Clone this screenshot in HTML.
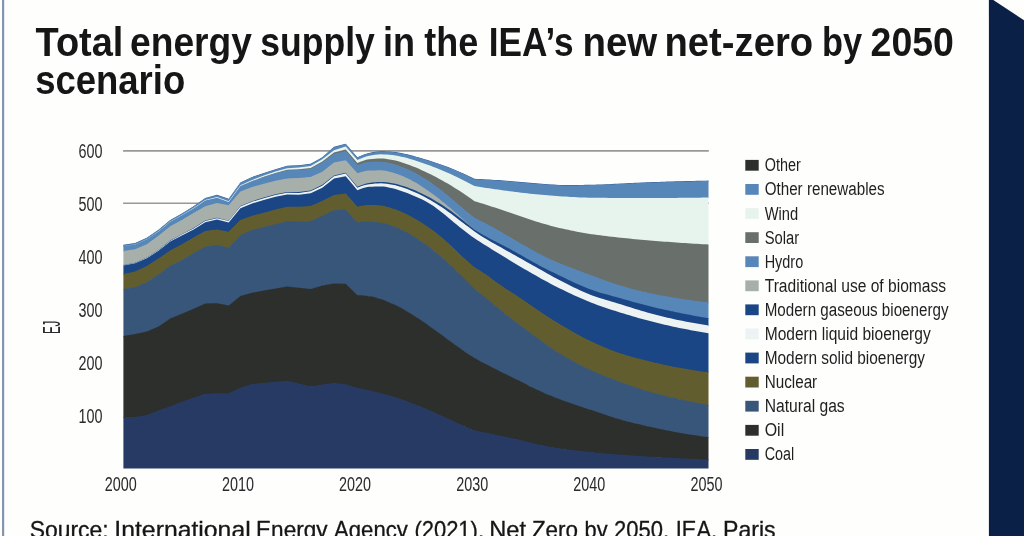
<!DOCTYPE html>
<html><head><meta charset="utf-8"><title>Total energy supply in the IEA's new net-zero by 2050 scenario</title>
<style>
html,body{margin:0;padding:0;background:#fff;}
body{width:1024px;height:536px;overflow:hidden;position:relative;font-family:"Liberation Sans",sans-serif;}
svg{position:absolute;left:0;top:0;}
.ax{font-family:"Liberation Sans",sans-serif;font-size:19.5px;fill:#2a2a2a;}
.lg{font-family:"Liberation Sans",sans-serif;font-size:18px;fill:#1f1f1f;}
.ttl{font-family:"Liberation Sans",sans-serif;font-weight:bold;font-size:40px;fill:#161616;}
.src{font-family:"Liberation Sans",sans-serif;font-size:23.2px;fill:#161616;stroke:#161616;stroke-width:0.3px;}
</style></head><body>
<svg width="1024" height="536" viewBox="0 0 1024 536">
<rect x="0" y="0" width="1024" height="536" fill="#fefefd"/>
<rect x="2" y="0" width="2.2" height="536" fill="#8394ae"/>
<path d="M988.9,0 L993.3,0 L1024,20.2 L1024,536 L988.9,536Z" fill="#0a2046"/>
<text y="55.7" class="ttl"><tspan x="35.5" textLength="87.9" lengthAdjust="spacingAndGlyphs">Total</tspan> <tspan x="130.1" textLength="121.8" lengthAdjust="spacingAndGlyphs">energy</tspan> <tspan x="260.3" textLength="114.5" lengthAdjust="spacingAndGlyphs">supply</tspan> <tspan x="383.1" textLength="32.0" lengthAdjust="spacingAndGlyphs">in</tspan> <tspan x="424.3" textLength="53.9" lengthAdjust="spacingAndGlyphs">the</tspan> <tspan x="488.8" textLength="84.8" lengthAdjust="spacingAndGlyphs">IEA’s</tspan> <tspan x="582.4" textLength="74.8" lengthAdjust="spacingAndGlyphs">new</tspan> <tspan x="664.5" textLength="148.6" lengthAdjust="spacingAndGlyphs">net-zero</tspan> <tspan x="821.9" textLength="40.1" lengthAdjust="spacingAndGlyphs">by</tspan> <tspan x="870.6" textLength="83.3" lengthAdjust="spacingAndGlyphs">2050</tspan></text>
<text y="93.8" class="ttl"><tspan x="35.2" textLength="150.0" lengthAdjust="spacingAndGlyphs">scenario</tspan></text>
<line x1="123.1" x2="708.8" y1="203.3" y2="203.3" stroke="#989898" stroke-width="1.6"/>
<line x1="123.1" x2="708.8" y1="150.9" y2="150.9" stroke="#989898" stroke-width="1.6"/>
<path d="M123.4,244.80 L135.1,243.00 L146.8,237.70 L158.5,229.70 L170.2,220.00 L181.9,213.40 L193.6,206.20 L205.3,197.90 L217.0,194.80 L228.7,198.80 L240.4,182.40 L252.1,176.90 L263.8,173.00 L275.5,169.20 L287.2,165.70 L298.9,165.20 L310.6,163.80 L322.3,157.20 L334.0,146.80 L345.7,143.70 L357.4,157.30 L360.4,155.93 L363.3,154.70 L366.2,153.69 L369.1,152.93 L372.1,152.33 L375.0,151.80 L377.9,151.42 L380.8,151.27 L383.8,151.31 L386.7,151.41 L389.6,151.55 L392.5,151.73 L395.5,152.03 L398.4,152.52 L401.3,153.11 L404.2,153.72 L407.2,154.36 L410.1,155.08 L413.0,155.86 L416.0,156.65 L418.9,157.45 L421.8,158.29 L424.7,159.16 L427.7,160.05 L430.6,160.97 L433.5,161.91 L436.4,162.89 L439.4,163.89 L442.3,164.93 L445.2,166.00 L448.1,167.10 L451.1,168.24 L454.0,169.42 L456.9,170.64 L459.8,171.89 L462.8,173.19 L465.7,174.52 L468.6,175.91 L471.5,177.33 L474.5,178.80 L477.4,178.93 L480.3,179.06 L483.2,179.21 L486.2,179.38 L489.1,179.55 L492.0,179.73 L494.9,179.92 L497.9,180.11 L500.8,180.31 L503.7,180.52 L506.6,180.75 L509.6,180.99 L512.5,181.26 L515.4,181.53 L518.3,181.80 L521.3,182.06 L524.2,182.33 L527.1,182.60 L530.0,182.86 L533.0,183.10 L535.9,183.31 L538.8,183.53 L541.7,183.76 L544.7,183.98 L547.6,184.20 L550.5,184.40 L553.4,184.59 L556.4,184.75 L559.3,184.89 L562.2,184.99 L565.2,185.06 L568.1,185.08 L571.0,185.07 L573.9,185.05 L576.9,185.01 L579.8,184.97 L582.7,184.92 L585.6,184.86 L588.6,184.80 L591.5,184.74 L594.4,184.67 L597.3,184.59 L600.3,184.49 L603.2,184.39 L606.1,184.27 L609.0,184.14 L612.0,184.00 L614.9,183.86 L617.8,183.71 L620.7,183.55 L623.7,183.40 L626.6,183.25 L629.5,183.09 L632.4,182.94 L635.4,182.80 L638.3,182.66 L641.2,182.52 L644.1,182.40 L647.1,182.28 L650.0,182.18 L652.9,182.08 L655.8,181.98 L658.8,181.89 L661.7,181.80 L664.6,181.71 L667.5,181.62 L670.5,181.53 L673.4,181.44 L676.3,181.36 L679.2,181.28 L682.2,181.20 L685.1,181.12 L688.0,181.05 L690.9,180.98 L693.9,180.91 L696.8,180.84 L699.7,180.78 L702.6,180.71 L705.6,180.66 L708.5,180.60 L708.5,181.70 L705.6,181.76 L702.6,181.81 L699.7,181.88 L696.8,181.94 L693.9,182.01 L690.9,182.08 L688.0,182.15 L685.1,182.22 L682.2,182.30 L679.2,182.38 L676.3,182.46 L673.4,182.54 L670.5,182.63 L667.5,182.72 L664.6,182.81 L661.7,182.90 L658.8,182.99 L655.8,183.08 L652.9,183.18 L650.0,183.28 L647.1,183.38 L644.1,183.50 L641.2,183.62 L638.3,183.76 L635.4,183.90 L632.4,184.04 L629.5,184.19 L626.6,184.35 L623.7,184.50 L620.7,184.65 L617.8,184.81 L614.9,184.96 L612.0,185.10 L609.0,185.24 L606.1,185.37 L603.2,185.49 L600.3,185.59 L597.3,185.69 L594.4,185.77 L591.5,185.84 L588.6,185.90 L585.6,185.96 L582.7,186.02 L579.8,186.07 L576.9,186.11 L573.9,186.15 L571.0,186.17 L568.1,186.18 L565.2,186.16 L562.2,186.09 L559.3,185.99 L556.4,185.85 L553.4,185.69 L550.5,185.50 L547.6,185.30 L544.7,185.08 L541.7,184.86 L538.8,184.63 L535.9,184.41 L533.0,184.20 L530.0,183.96 L527.1,183.70 L524.2,183.43 L521.3,183.16 L518.3,182.90 L515.4,182.63 L512.5,182.36 L509.6,182.09 L506.6,181.85 L503.7,181.62 L500.8,181.41 L497.9,181.21 L494.9,181.02 L492.0,180.83 L489.1,180.65 L486.2,180.48 L483.2,180.31 L480.3,180.16 L477.4,180.03 L474.5,179.90 L471.5,178.43 L468.6,177.01 L465.7,175.62 L462.8,174.29 L459.8,172.99 L456.9,171.74 L454.0,170.52 L451.1,169.34 L448.1,168.20 L445.2,167.10 L442.3,166.03 L439.4,164.99 L436.4,163.99 L433.5,163.01 L430.6,162.07 L427.7,161.15 L424.7,160.26 L421.8,159.39 L418.9,158.55 L416.0,157.75 L413.0,156.96 L410.1,156.18 L407.2,155.46 L404.2,154.82 L401.3,154.21 L398.4,153.62 L395.5,153.13 L392.5,152.83 L389.6,152.65 L386.7,152.51 L383.8,152.41 L380.8,152.37 L377.9,152.52 L375.0,152.90 L372.1,153.43 L369.1,154.03 L366.2,154.79 L363.3,155.80 L360.4,157.03 L357.4,158.40 L345.7,144.80 L334.0,147.90 L322.3,158.30 L310.6,164.90 L298.9,166.30 L287.2,166.80 L275.5,170.30 L263.8,174.10 L252.1,178.00 L240.4,183.50 L228.7,199.90 L217.0,195.90 L205.3,199.00 L193.6,207.30 L181.9,214.50 L170.2,221.10 L158.5,230.80 L146.8,238.80 L135.1,244.10 L123.4,245.90Z" fill="#2f5c99"/>
<path d="M123.4,245.20 L135.1,243.40 L146.8,238.10 L158.5,230.10 L170.2,220.40 L181.9,213.80 L193.6,206.60 L205.3,198.30 L217.0,195.20 L228.7,199.20 L240.4,182.80 L252.1,177.30 L263.8,173.40 L275.5,169.60 L287.2,166.10 L298.9,165.60 L310.6,164.20 L322.3,157.60 L334.0,147.20 L345.7,144.10 L357.4,157.70 L360.4,156.33 L363.3,155.10 L366.2,154.09 L369.1,153.33 L372.1,152.73 L375.0,152.20 L377.9,151.82 L380.8,151.67 L383.8,151.71 L386.7,151.81 L389.6,151.95 L392.5,152.13 L395.5,152.43 L398.4,152.92 L401.3,153.51 L404.2,154.12 L407.2,154.76 L410.1,155.48 L413.0,156.26 L416.0,157.05 L418.9,157.85 L421.8,158.69 L424.7,159.56 L427.7,160.45 L430.6,161.37 L433.5,162.31 L436.4,163.29 L439.4,164.29 L442.3,165.33 L445.2,166.40 L448.1,167.50 L451.1,168.64 L454.0,169.82 L456.9,171.04 L459.8,172.29 L462.8,173.59 L465.7,174.92 L468.6,176.31 L471.5,177.73 L474.5,179.20 L477.4,179.33 L480.3,179.46 L483.2,179.61 L486.2,179.78 L489.1,179.95 L492.0,180.13 L494.9,180.32 L497.9,180.51 L500.8,180.71 L503.7,180.92 L506.6,181.15 L509.6,181.39 L512.5,181.66 L515.4,181.93 L518.3,182.20 L521.3,182.46 L524.2,182.73 L527.1,183.00 L530.0,183.26 L533.0,183.50 L535.9,183.71 L538.8,183.93 L541.7,184.16 L544.7,184.38 L547.6,184.60 L550.5,184.80 L553.4,184.99 L556.4,185.15 L559.3,185.29 L562.2,185.39 L565.2,185.46 L568.1,185.48 L571.0,185.47 L573.9,185.45 L576.9,185.41 L579.8,185.37 L582.7,185.32 L585.6,185.26 L588.6,185.20 L591.5,185.14 L594.4,185.07 L597.3,184.99 L600.3,184.89 L603.2,184.79 L606.1,184.67 L609.0,184.54 L612.0,184.40 L614.9,184.26 L617.8,184.11 L620.7,183.95 L623.7,183.80 L626.6,183.65 L629.5,183.49 L632.4,183.34 L635.4,183.20 L638.3,183.06 L641.2,182.92 L644.1,182.80 L647.1,182.68 L650.0,182.58 L652.9,182.48 L655.8,182.38 L658.8,182.29 L661.7,182.20 L664.6,182.11 L667.5,182.02 L670.5,181.93 L673.4,181.84 L676.3,181.76 L679.2,181.68 L682.2,181.60 L685.1,181.52 L688.0,181.45 L690.9,181.38 L693.9,181.31 L696.8,181.24 L699.7,181.18 L702.6,181.11 L705.6,181.06 L708.5,181.00 L708.5,198.20 L705.6,198.24 L702.6,198.29 L699.7,198.33 L696.8,198.37 L693.9,198.41 L690.9,198.44 L688.0,198.48 L685.1,198.51 L682.2,198.54 L679.2,198.57 L676.3,198.60 L673.4,198.62 L670.5,198.64 L667.5,198.66 L664.6,198.68 L661.7,198.69 L658.8,198.70 L655.8,198.71 L652.9,198.71 L650.0,198.71 L647.1,198.71 L644.1,198.71 L641.2,198.71 L638.3,198.70 L635.4,198.70 L632.4,198.69 L629.5,198.68 L626.6,198.67 L623.7,198.66 L620.7,198.65 L617.8,198.63 L614.9,198.62 L612.0,198.60 L609.0,198.58 L606.1,198.56 L603.2,198.54 L600.3,198.52 L597.3,198.49 L594.4,198.47 L591.5,198.44 L588.6,198.39 L585.6,198.31 L582.7,198.21 L579.8,198.08 L576.9,197.94 L573.9,197.78 L571.0,197.62 L568.1,197.46 L565.2,197.30 L562.2,197.11 L559.3,196.91 L556.4,196.70 L553.4,196.47 L550.5,196.23 L547.6,195.98 L544.7,195.72 L541.7,195.46 L538.8,195.19 L535.9,194.91 L533.0,194.63 L530.0,194.34 L527.1,194.03 L524.2,193.69 L521.3,193.35 L518.3,192.99 L515.4,192.63 L512.5,192.26 L509.6,191.88 L506.6,191.49 L503.7,191.10 L500.8,190.70 L497.9,190.30 L494.9,189.88 L492.0,189.45 L489.1,189.02 L486.2,188.58 L483.2,188.12 L480.3,187.66 L477.4,187.18 L474.5,186.70 L471.5,185.13 L468.6,183.60 L465.7,182.10 L462.8,180.63 L459.8,179.19 L456.9,177.78 L454.0,176.41 L451.1,175.06 L448.1,173.75 L445.2,172.47 L442.3,171.22 L439.4,170.01 L436.4,168.82 L433.5,167.67 L430.6,166.55 L427.7,165.47 L424.7,164.41 L421.8,163.39 L418.9,162.39 L416.0,161.45 L413.0,160.53 L410.1,159.63 L407.2,158.79 L404.2,158.05 L401.3,157.35 L398.4,156.68 L395.5,156.11 L392.5,155.73 L389.6,155.48 L386.7,155.26 L383.8,155.10 L380.8,155.05 L377.9,155.18 L375.0,155.52 L372.1,156.00 L369.1,156.55 L366.2,157.27 L363.3,158.25 L360.4,159.45 L357.4,160.80 L345.7,147.10 L334.0,151.00 L322.3,160.03 L310.6,166.67 L298.9,168.25 L287.2,168.90 L275.5,172.25 L263.8,176.20 L252.1,180.80 L240.4,185.90 L228.7,202.06 L217.0,197.82 L205.3,200.68 L193.6,208.74 L181.9,215.70 L170.2,222.30 L158.5,231.95 L146.8,239.90 L135.1,245.15 L123.4,246.90Z" fill="#5786b8"/>
<path d="M123.4,246.20 L135.1,244.45 L146.8,239.20 L158.5,231.25 L170.2,221.60 L181.9,215.00 L193.6,208.04 L205.3,199.98 L217.0,197.12 L228.7,201.36 L240.4,185.20 L252.1,180.10 L263.8,175.50 L275.5,171.55 L287.2,168.20 L298.9,167.55 L310.6,165.97 L322.3,159.33 L334.0,150.30 L345.7,146.40 L357.4,160.10 L360.4,158.75 L363.3,157.55 L366.2,156.57 L369.1,155.85 L372.1,155.30 L375.0,154.82 L377.9,154.48 L380.8,154.35 L383.8,154.40 L386.7,154.56 L389.6,154.78 L392.5,155.03 L395.5,155.41 L398.4,155.98 L401.3,156.65 L404.2,157.35 L407.2,158.09 L410.1,158.93 L413.0,159.83 L416.0,160.75 L418.9,161.69 L421.8,162.69 L424.7,163.71 L427.7,164.77 L430.6,165.85 L433.5,166.97 L436.4,168.12 L439.4,169.31 L442.3,170.52 L445.2,171.77 L448.1,173.05 L451.1,174.36 L454.0,175.71 L456.9,177.08 L459.8,178.49 L462.8,179.93 L465.7,181.40 L468.6,182.90 L471.5,184.43 L474.5,186.00 L477.4,186.48 L480.3,186.96 L483.2,187.42 L486.2,187.88 L489.1,188.32 L492.0,188.75 L494.9,189.18 L497.9,189.60 L500.8,190.00 L503.7,190.40 L506.6,190.79 L509.6,191.18 L512.5,191.56 L515.4,191.93 L518.3,192.29 L521.3,192.65 L524.2,192.99 L527.1,193.33 L530.0,193.64 L533.0,193.93 L535.9,194.21 L538.8,194.49 L541.7,194.76 L544.7,195.02 L547.6,195.28 L550.5,195.53 L553.4,195.77 L556.4,196.00 L559.3,196.21 L562.2,196.41 L565.2,196.60 L568.1,196.76 L571.0,196.92 L573.9,197.08 L576.9,197.24 L579.8,197.38 L582.7,197.51 L585.6,197.61 L588.6,197.69 L591.5,197.74 L594.4,197.77 L597.3,197.79 L600.3,197.82 L603.2,197.84 L606.1,197.86 L609.0,197.88 L612.0,197.90 L614.9,197.92 L617.8,197.93 L620.7,197.95 L623.7,197.96 L626.6,197.97 L629.5,197.98 L632.4,197.99 L635.4,198.00 L638.3,198.00 L641.2,198.01 L644.1,198.01 L647.1,198.01 L650.0,198.01 L652.9,198.01 L655.8,198.01 L658.8,198.00 L661.7,197.99 L664.6,197.98 L667.5,197.96 L670.5,197.94 L673.4,197.92 L676.3,197.90 L679.2,197.87 L682.2,197.84 L685.1,197.81 L688.0,197.78 L690.9,197.74 L693.9,197.71 L696.8,197.67 L699.7,197.63 L702.6,197.59 L705.6,197.54 L708.5,197.50 L708.5,245.20 L705.6,245.05 L702.6,244.89 L699.7,244.73 L696.8,244.56 L693.9,244.39 L690.9,244.20 L688.0,244.02 L685.1,243.82 L682.2,243.63 L679.2,243.42 L676.3,243.22 L673.4,243.00 L670.5,242.79 L667.5,242.56 L664.6,242.34 L661.7,242.11 L658.8,241.87 L655.8,241.64 L652.9,241.39 L650.0,241.15 L647.1,240.90 L644.1,240.65 L641.2,240.39 L638.3,240.13 L635.4,239.86 L632.4,239.58 L629.5,239.30 L626.6,239.01 L623.7,238.71 L620.7,238.41 L617.8,238.10 L614.9,237.78 L612.0,237.45 L609.0,237.11 L606.1,236.76 L603.2,236.40 L600.3,236.04 L597.3,235.66 L594.4,235.27 L591.5,234.87 L588.6,234.44 L585.6,233.95 L582.7,233.43 L579.8,232.89 L576.9,232.35 L573.9,231.78 L571.0,231.18 L568.1,230.57 L565.2,229.93 L562.2,229.27 L559.3,228.58 L556.4,227.87 L553.4,227.13 L550.5,226.36 L547.6,225.56 L544.7,224.74 L541.7,223.89 L538.8,223.01 L535.9,222.11 L533.0,221.18 L530.0,220.24 L527.1,219.28 L524.2,218.30 L521.3,217.32 L518.3,216.32 L515.4,215.32 L512.5,214.31 L509.6,213.30 L506.6,212.29 L503.7,211.28 L500.8,210.28 L497.9,209.29 L494.9,208.30 L492.0,207.33 L489.1,206.37 L486.2,205.43 L483.2,204.52 L480.3,203.63 L477.4,202.75 L474.5,201.90 L471.5,199.79 L468.6,197.72 L465.7,195.71 L462.8,193.74 L459.8,191.81 L456.9,189.92 L454.0,188.09 L451.1,186.29 L448.1,184.55 L445.2,182.84 L442.3,181.19 L439.4,179.58 L436.4,178.01 L433.5,176.49 L430.6,175.01 L427.7,173.58 L424.7,172.19 L421.8,170.84 L418.9,169.55 L416.0,168.30 L413.0,167.10 L410.1,165.93 L407.2,164.83 L404.2,163.84 L401.3,162.90 L398.4,162.01 L395.5,161.22 L392.5,160.62 L389.6,160.11 L386.7,159.64 L383.8,159.30 L380.8,159.17 L377.9,159.24 L375.0,159.42 L372.1,159.69 L369.1,160.02 L366.2,160.55 L363.3,161.40 L360.4,162.47 L357.4,163.70 L345.7,150.10 L334.0,153.20 L322.3,162.10 L310.6,168.60 L298.9,170.05 L287.2,170.50 L275.5,173.65 L263.8,177.40 L252.1,181.80 L240.4,186.70 L228.7,202.76 L217.0,198.42 L205.3,201.18 L193.6,209.14 L181.9,216.00 L170.2,222.50 L158.5,232.10 L146.8,240.00 L135.1,245.20 L123.4,246.20Z" fill="#e7f4ee"/>
<path d="M123.4,246.20 L135.1,244.50 L146.8,239.30 L158.5,231.40 L170.2,221.80 L181.9,215.30 L193.6,208.44 L205.3,200.48 L217.0,197.72 L228.7,202.06 L240.4,186.00 L252.1,181.10 L263.8,176.70 L275.5,172.95 L287.2,169.80 L298.9,169.35 L310.6,167.90 L322.3,161.40 L334.0,152.50 L345.7,149.40 L357.4,163.00 L360.4,161.77 L363.3,160.70 L366.2,159.85 L369.1,159.32 L372.1,158.99 L375.0,158.72 L377.9,158.54 L380.8,158.47 L383.8,158.60 L386.7,158.94 L389.6,159.41 L392.5,159.92 L395.5,160.52 L398.4,161.31 L401.3,162.20 L404.2,163.14 L407.2,164.13 L410.1,165.23 L413.0,166.40 L416.0,167.60 L418.9,168.85 L421.8,170.14 L424.7,171.49 L427.7,172.88 L430.6,174.31 L433.5,175.79 L436.4,177.31 L439.4,178.88 L442.3,180.49 L445.2,182.14 L448.1,183.85 L451.1,185.59 L454.0,187.39 L456.9,189.22 L459.8,191.11 L462.8,193.04 L465.7,195.01 L468.6,197.02 L471.5,199.09 L474.5,201.20 L477.4,202.05 L480.3,202.93 L483.2,203.82 L486.2,204.73 L489.1,205.67 L492.0,206.63 L494.9,207.60 L497.9,208.59 L500.8,209.58 L503.7,210.58 L506.6,211.59 L509.6,212.60 L512.5,213.61 L515.4,214.62 L518.3,215.62 L521.3,216.62 L524.2,217.60 L527.1,218.58 L530.0,219.54 L533.0,220.48 L535.9,221.41 L538.8,222.31 L541.7,223.19 L544.7,224.04 L547.6,224.86 L550.5,225.66 L553.4,226.43 L556.4,227.17 L559.3,227.88 L562.2,228.57 L565.2,229.23 L568.1,229.87 L571.0,230.48 L573.9,231.08 L576.9,231.65 L579.8,232.19 L582.7,232.73 L585.6,233.25 L588.6,233.74 L591.5,234.17 L594.4,234.57 L597.3,234.96 L600.3,235.34 L603.2,235.70 L606.1,236.06 L609.0,236.41 L612.0,236.75 L614.9,237.08 L617.8,237.40 L620.7,237.71 L623.7,238.01 L626.6,238.31 L629.5,238.60 L632.4,238.88 L635.4,239.16 L638.3,239.43 L641.2,239.69 L644.1,239.95 L647.1,240.20 L650.0,240.45 L652.9,240.69 L655.8,240.94 L658.8,241.17 L661.7,241.41 L664.6,241.64 L667.5,241.86 L670.5,242.09 L673.4,242.30 L676.3,242.52 L679.2,242.72 L682.2,242.93 L685.1,243.12 L688.0,243.32 L690.9,243.50 L693.9,243.69 L696.8,243.86 L699.7,244.03 L702.6,244.19 L705.6,244.35 L708.5,244.50 L708.5,303.20 L705.6,302.86 L702.6,302.51 L699.7,302.14 L696.8,301.75 L693.9,301.36 L690.9,300.95 L688.0,300.53 L685.1,300.10 L682.2,299.66 L679.2,299.21 L676.3,298.75 L673.4,298.28 L670.5,297.80 L667.5,297.30 L664.6,296.79 L661.7,296.26 L658.8,295.71 L655.8,295.14 L652.9,294.55 L650.0,293.93 L647.1,293.29 L644.1,292.62 L641.2,291.93 L638.3,291.20 L635.4,290.45 L632.4,289.68 L629.5,288.88 L626.6,288.06 L623.7,287.22 L620.7,286.36 L617.8,285.48 L614.9,284.56 L612.0,283.59 L609.0,282.58 L606.1,281.54 L603.2,280.47 L600.3,279.39 L597.3,278.30 L594.4,277.22 L591.5,276.14 L588.6,275.05 L585.6,273.95 L582.7,272.84 L579.8,271.74 L576.9,270.65 L573.9,269.56 L571.0,268.47 L568.1,267.35 L565.2,266.21 L562.2,265.05 L559.3,263.86 L556.4,262.62 L553.4,261.33 L550.5,259.98 L547.6,258.59 L544.7,257.17 L541.7,255.70 L538.8,254.19 L535.9,252.64 L533.0,251.06 L530.0,249.46 L527.1,247.82 L524.2,246.16 L521.3,244.48 L518.3,242.78 L515.4,241.06 L512.5,239.33 L509.6,237.62 L506.6,235.90 L503.7,234.19 L500.8,232.49 L497.9,230.81 L494.9,229.17 L492.0,227.55 L489.1,225.95 L486.2,224.39 L483.2,222.87 L480.3,221.38 L477.4,219.92 L474.5,218.50 L471.5,216.18 L468.6,213.83 L465.7,211.44 L462.8,209.01 L459.8,206.52 L456.9,203.97 L454.0,201.42 L451.1,198.93 L448.1,196.50 L445.2,194.10 L442.3,191.75 L439.4,189.48 L436.4,187.28 L433.5,185.14 L430.6,183.08 L427.7,181.11 L424.7,179.22 L421.8,177.39 L418.9,175.66 L416.0,174.04 L413.0,172.51 L410.1,171.06 L407.2,169.70 L404.2,168.48 L401.3,167.34 L398.4,166.28 L395.5,165.33 L392.5,164.54 L389.6,163.81 L386.7,163.11 L383.8,162.59 L380.8,162.39 L377.9,162.40 L375.0,162.45 L372.1,162.53 L369.1,162.64 L366.2,163.00 L363.3,163.76 L360.4,164.81 L357.4,166.00 L345.7,151.80 L334.0,154.60 L322.3,163.20 L310.6,169.40 L298.9,170.70 L287.2,171.00 L275.5,174.00 L263.8,177.60 L252.1,181.10 L240.4,186.00 L228.7,202.06 L217.0,197.72 L205.3,200.48 L193.6,208.44 L181.9,215.30 L170.2,221.80 L158.5,231.40 L146.8,239.30 L135.1,244.50 L123.4,246.20Z" fill="#69706c"/>
<path d="M123.4,246.20 L135.1,244.50 L146.8,239.30 L158.5,231.40 L170.2,221.80 L181.9,215.30 L193.6,208.44 L205.3,200.48 L217.0,197.72 L228.7,202.06 L240.4,186.00 L252.1,181.10 L263.8,176.90 L275.5,173.30 L287.2,170.30 L298.9,170.00 L310.6,168.70 L322.3,162.50 L334.0,153.90 L345.7,151.10 L357.4,165.30 L360.4,164.11 L363.3,163.06 L366.2,162.30 L369.1,161.94 L372.1,161.83 L375.0,161.75 L377.9,161.70 L380.8,161.69 L383.8,161.89 L386.7,162.41 L389.6,163.11 L392.5,163.84 L395.5,164.63 L398.4,165.58 L401.3,166.64 L404.2,167.78 L407.2,169.00 L410.1,170.36 L413.0,171.81 L416.0,173.34 L418.9,174.96 L421.8,176.69 L424.7,178.52 L427.7,180.41 L430.6,182.38 L433.5,184.44 L436.4,186.58 L439.4,188.78 L442.3,191.05 L445.2,193.40 L448.1,195.80 L451.1,198.23 L454.0,200.72 L456.9,203.27 L459.8,205.82 L462.8,208.31 L465.7,210.74 L468.6,213.13 L471.5,215.48 L474.5,217.80 L477.4,219.22 L480.3,220.68 L483.2,222.17 L486.2,223.69 L489.1,225.25 L492.0,226.85 L494.9,228.47 L497.9,230.11 L500.8,231.79 L503.7,233.49 L506.6,235.20 L509.6,236.92 L512.5,238.63 L515.4,240.36 L518.3,242.08 L521.3,243.78 L524.2,245.46 L527.1,247.12 L530.0,248.76 L533.0,250.36 L535.9,251.94 L538.8,253.49 L541.7,255.00 L544.7,256.47 L547.6,257.89 L550.5,259.28 L553.4,260.63 L556.4,261.92 L559.3,263.16 L562.2,264.35 L565.2,265.51 L568.1,266.65 L571.0,267.77 L573.9,268.86 L576.9,269.95 L579.8,271.04 L582.7,272.14 L585.6,273.25 L588.6,274.35 L591.5,275.44 L594.4,276.52 L597.3,277.60 L600.3,278.69 L603.2,279.77 L606.1,280.84 L609.0,281.88 L612.0,282.89 L614.9,283.86 L617.8,284.78 L620.7,285.66 L623.7,286.52 L626.6,287.36 L629.5,288.18 L632.4,288.98 L635.4,289.75 L638.3,290.50 L641.2,291.23 L644.1,291.92 L647.1,292.59 L650.0,293.23 L652.9,293.85 L655.8,294.44 L658.8,295.01 L661.7,295.56 L664.6,296.09 L667.5,296.60 L670.5,297.10 L673.4,297.58 L676.3,298.05 L679.2,298.51 L682.2,298.96 L685.1,299.40 L688.0,299.83 L690.9,300.25 L693.9,300.66 L696.8,301.05 L699.7,301.44 L702.6,301.81 L705.6,302.16 L708.5,302.50 L708.5,319.00 L705.6,318.50 L702.6,317.98 L699.7,317.46 L696.8,316.92 L693.9,316.38 L690.9,315.82 L688.0,315.26 L685.1,314.68 L682.2,314.10 L679.2,313.51 L676.3,312.92 L673.4,312.31 L670.5,311.69 L667.5,311.07 L664.6,310.43 L661.7,309.78 L658.8,309.11 L655.8,308.43 L652.9,307.74 L650.0,307.03 L647.1,306.30 L644.1,305.55 L641.2,304.78 L638.3,303.99 L635.4,303.18 L632.4,302.37 L629.5,301.55 L626.6,300.72 L623.7,299.88 L620.7,299.05 L617.8,298.22 L614.9,297.41 L612.0,296.61 L609.0,295.81 L606.1,295.00 L603.2,294.18 L600.3,293.33 L597.3,292.44 L594.4,291.50 L591.5,290.50 L588.6,289.43 L585.6,288.29 L582.7,287.07 L579.8,285.80 L576.9,284.48 L573.9,283.13 L571.0,281.74 L568.1,280.33 L565.2,278.91 L562.2,277.50 L559.3,276.08 L556.4,274.69 L553.4,273.30 L550.5,271.89 L547.6,270.44 L544.7,268.97 L541.7,267.44 L538.8,265.88 L535.9,264.28 L533.0,262.67 L530.0,261.03 L527.1,259.37 L524.2,257.69 L521.3,256.03 L518.3,254.39 L515.4,252.74 L512.5,251.12 L509.6,249.52 L506.6,247.97 L503.7,246.45 L500.8,244.94 L497.9,243.43 L494.9,241.91 L492.0,240.39 L489.1,238.86 L486.2,237.27 L483.2,235.62 L480.3,233.93 L477.4,232.19 L474.5,230.40 L471.5,227.72 L468.6,225.06 L465.7,222.40 L462.8,219.77 L459.8,217.16 L456.9,214.56 L454.0,212.00 L451.1,209.48 L448.1,207.00 L445.2,204.55 L442.3,202.16 L439.4,199.82 L436.4,197.55 L433.5,195.32 L430.6,193.16 L427.7,191.09 L424.7,189.09 L421.8,187.15 L418.9,185.29 L416.0,183.55 L413.0,181.90 L410.1,180.32 L407.2,178.85 L404.2,177.51 L401.3,176.28 L398.4,175.12 L395.5,174.09 L392.5,173.25 L389.6,172.50 L386.7,171.79 L383.8,171.26 L380.8,171.05 L377.9,171.06 L375.0,171.09 L372.1,171.14 L369.1,171.21 L366.2,171.49 L363.3,172.13 L360.4,173.00 L357.4,174.00 L345.7,161.00 L334.0,163.20 L322.3,172.50 L310.6,177.60 L298.9,178.80 L287.2,179.10 L275.5,181.40 L263.8,184.40 L252.1,187.80 L240.4,192.30 L228.7,205.90 L217.0,203.80 L205.3,207.00 L193.6,213.60 L181.9,220.60 L170.2,227.00 L158.5,236.40 L146.8,245.00 L135.1,249.90 L123.4,251.80Z" fill="#5786b8"/>
<path d="M123.4,251.10 L135.1,249.20 L146.8,244.30 L158.5,235.70 L170.2,226.30 L181.9,219.90 L193.6,212.90 L205.3,206.30 L217.0,203.10 L228.7,205.20 L240.4,191.60 L252.1,187.10 L263.8,183.70 L275.5,180.70 L287.2,178.40 L298.9,178.10 L310.6,176.90 L322.3,171.80 L334.0,162.50 L345.7,160.30 L357.4,173.30 L360.4,172.30 L363.3,171.43 L366.2,170.79 L369.1,170.51 L372.1,170.44 L375.0,170.39 L377.9,170.36 L380.8,170.35 L383.8,170.56 L386.7,171.09 L389.6,171.80 L392.5,172.55 L395.5,173.39 L398.4,174.42 L401.3,175.58 L404.2,176.81 L407.2,178.15 L410.1,179.62 L413.0,181.20 L416.0,182.85 L418.9,184.59 L421.8,186.45 L424.7,188.39 L427.7,190.39 L430.6,192.46 L433.5,194.62 L436.4,196.85 L439.4,199.12 L442.3,201.46 L445.2,203.85 L448.1,206.30 L451.1,208.78 L454.0,211.30 L456.9,213.86 L459.8,216.46 L462.8,219.07 L465.7,221.70 L468.6,224.36 L471.5,227.02 L474.5,229.70 L477.4,231.49 L480.3,233.23 L483.2,234.92 L486.2,236.57 L489.1,238.16 L492.0,239.69 L494.9,241.21 L497.9,242.73 L500.8,244.24 L503.7,245.75 L506.6,247.27 L509.6,248.82 L512.5,250.42 L515.4,252.04 L518.3,253.69 L521.3,255.33 L524.2,256.99 L527.1,258.67 L530.0,260.33 L533.0,261.97 L535.9,263.58 L538.8,265.18 L541.7,266.74 L544.7,268.27 L547.6,269.74 L550.5,271.19 L553.4,272.60 L556.4,273.99 L559.3,275.38 L562.2,276.80 L565.2,278.21 L568.1,279.63 L571.0,281.04 L573.9,282.43 L576.9,283.78 L579.8,285.10 L582.7,286.37 L585.6,287.59 L588.6,288.73 L591.5,289.80 L594.4,290.80 L597.3,291.74 L600.3,292.63 L603.2,293.48 L606.1,294.30 L609.0,295.11 L612.0,295.91 L614.9,296.71 L617.8,297.52 L620.7,298.35 L623.7,299.18 L626.6,300.02 L629.5,300.85 L632.4,301.67 L635.4,302.48 L638.3,303.29 L641.2,304.08 L644.1,304.85 L647.1,305.60 L650.0,306.33 L652.9,307.04 L655.8,307.73 L658.8,308.41 L661.7,309.08 L664.6,309.73 L667.5,310.37 L670.5,310.99 L673.4,311.61 L676.3,312.22 L679.2,312.81 L682.2,313.40 L685.1,313.98 L688.0,314.56 L690.9,315.12 L693.9,315.68 L696.8,316.22 L699.7,316.76 L702.6,317.28 L705.6,317.80 L708.5,318.30 L708.5,318.30 L705.6,317.80 L702.6,317.28 L699.7,316.76 L696.8,316.22 L693.9,315.68 L690.9,315.12 L688.0,314.56 L685.1,313.98 L682.2,313.40 L679.2,312.81 L676.3,312.22 L673.4,311.61 L670.5,310.99 L667.5,310.37 L664.6,309.73 L661.7,309.08 L658.8,308.41 L655.8,307.73 L652.9,307.04 L650.0,306.33 L647.1,305.60 L644.1,304.85 L641.2,304.08 L638.3,303.29 L635.4,302.48 L632.4,301.67 L629.5,300.85 L626.6,300.02 L623.7,299.18 L620.7,298.35 L617.8,297.52 L614.9,296.71 L612.0,295.91 L609.0,295.11 L606.1,294.30 L603.2,293.48 L600.3,292.63 L597.3,291.74 L594.4,290.80 L591.5,289.80 L588.6,288.73 L585.6,287.59 L582.7,286.37 L579.8,285.10 L576.9,283.78 L573.9,282.43 L571.0,281.04 L568.1,279.63 L565.2,278.21 L562.2,276.80 L559.3,275.38 L556.4,273.99 L553.4,272.60 L550.5,271.19 L547.6,269.74 L544.7,268.27 L541.7,266.74 L538.8,265.18 L535.9,263.58 L533.0,261.97 L530.0,260.33 L527.1,258.67 L524.2,256.99 L521.3,255.33 L518.3,253.69 L515.4,252.04 L512.5,250.42 L509.6,248.82 L506.6,247.27 L503.7,245.75 L500.8,244.24 L497.9,242.73 L494.9,241.21 L492.0,239.69 L489.1,238.16 L486.2,236.57 L483.2,234.92 L480.3,233.23 L477.4,231.49 L474.5,229.70 L471.5,227.95 L468.6,225.53 L465.7,223.15 L462.8,220.81 L459.8,218.49 L456.9,216.19 L454.0,213.95 L451.1,211.79 L448.1,209.71 L445.2,207.70 L442.3,205.75 L439.4,203.90 L436.4,202.11 L433.5,200.39 L430.6,198.75 L427.7,197.18 L424.7,195.67 L421.8,194.22 L418.9,192.85 L416.0,191.55 L413.0,190.31 L410.1,189.11 L407.2,188.00 L404.2,187.01 L401.3,186.09 L398.4,185.22 L395.5,184.47 L392.5,183.91 L389.6,183.46 L386.7,183.06 L383.8,182.77 L380.8,182.66 L377.9,182.74 L375.0,182.97 L372.1,183.29 L369.1,183.68 L366.2,184.25 L363.3,185.11 L360.4,186.18 L357.4,187.40 L345.7,173.34 L334.0,176.08 L322.3,185.45 L310.6,191.13 L298.9,192.80 L287.2,192.60 L275.5,195.00 L263.8,198.30 L252.1,201.90 L240.4,206.70 L228.7,221.33 L217.0,218.56 L205.3,221.32 L193.6,228.79 L181.9,234.95 L170.2,241.28 L158.5,250.69 L146.8,258.19 L135.1,263.39 L123.4,265.70Z" fill="#a7afaa"/>
<path d="M123.4,265.00 L135.1,262.69 L146.8,257.49 L158.5,249.99 L170.2,240.58 L181.9,234.25 L193.6,228.09 L205.3,220.62 L217.0,217.86 L228.7,220.63 L240.4,206.00 L252.1,201.20 L263.8,197.60 L275.5,194.30 L287.2,191.90 L298.9,192.10 L310.6,190.43 L322.3,184.75 L334.0,175.38 L345.7,172.64 L357.4,186.70 L360.4,185.48 L363.3,184.41 L366.2,183.55 L369.1,182.98 L372.1,182.59 L375.0,182.27 L377.9,182.04 L380.8,181.96 L383.8,182.07 L386.7,182.36 L389.6,182.76 L392.5,183.21 L395.5,183.77 L398.4,184.52 L401.3,185.39 L404.2,186.31 L407.2,187.30 L410.1,188.41 L413.0,189.61 L416.0,190.85 L418.9,192.15 L421.8,193.52 L424.7,194.97 L427.7,196.48 L430.6,198.05 L433.5,199.69 L436.4,201.41 L439.4,203.20 L442.3,205.05 L445.2,207.00 L448.1,209.01 L451.1,211.09 L454.0,213.25 L456.9,215.49 L459.8,217.79 L462.8,220.11 L465.7,222.45 L468.6,224.83 L471.5,227.25 L474.5,229.70 L477.4,231.49 L480.3,233.23 L483.2,234.92 L486.2,236.57 L489.1,238.16 L492.0,239.69 L494.9,241.21 L497.9,242.73 L500.8,244.24 L503.7,245.75 L506.6,247.27 L509.6,248.82 L512.5,250.42 L515.4,252.04 L518.3,253.69 L521.3,255.33 L524.2,256.99 L527.1,258.67 L530.0,260.33 L533.0,261.97 L535.9,263.58 L538.8,265.18 L541.7,266.74 L544.7,268.27 L547.6,269.74 L550.5,271.19 L553.4,272.60 L556.4,273.99 L559.3,275.38 L562.2,276.80 L565.2,278.21 L568.1,279.63 L571.0,281.04 L573.9,282.43 L576.9,283.78 L579.8,285.10 L582.7,286.37 L585.6,287.59 L588.6,288.73 L591.5,289.80 L594.4,290.80 L597.3,291.74 L600.3,292.63 L603.2,293.48 L606.1,294.30 L609.0,295.11 L612.0,295.91 L614.9,296.71 L617.8,297.52 L620.7,298.35 L623.7,299.18 L626.6,300.02 L629.5,300.85 L632.4,301.67 L635.4,302.48 L638.3,303.29 L641.2,304.08 L644.1,304.85 L647.1,305.60 L650.0,306.33 L652.9,307.04 L655.8,307.73 L658.8,308.41 L661.7,309.08 L664.6,309.73 L667.5,310.37 L670.5,310.99 L673.4,311.61 L676.3,312.22 L679.2,312.81 L682.2,313.40 L685.1,313.98 L688.0,314.56 L690.9,315.12 L693.9,315.68 L696.8,316.22 L699.7,316.76 L702.6,317.28 L705.6,317.80 L708.5,318.30 L708.5,326.20 L705.6,325.75 L702.6,325.29 L699.7,324.80 L696.8,324.30 L693.9,323.77 L690.9,323.23 L688.0,322.68 L685.1,322.11 L682.2,321.53 L679.2,320.93 L676.3,320.33 L673.4,319.70 L670.5,319.04 L667.5,318.36 L664.6,317.67 L661.7,316.95 L658.8,316.21 L655.8,315.46 L652.9,314.69 L650.0,313.91 L647.1,313.11 L644.1,312.27 L641.2,311.41 L638.3,310.53 L635.4,309.63 L632.4,308.72 L629.5,307.81 L626.6,306.88 L623.7,305.96 L620.7,305.05 L617.8,304.14 L614.9,303.25 L612.0,302.39 L609.0,301.53 L606.1,300.66 L603.2,299.78 L600.3,298.87 L597.3,297.92 L594.4,296.92 L591.5,295.86 L588.6,294.73 L585.6,293.52 L582.7,292.26 L579.8,290.93 L576.9,289.56 L573.9,288.15 L571.0,286.71 L568.1,285.24 L565.2,283.75 L562.2,282.26 L559.3,280.76 L556.4,279.21 L553.4,277.61 L550.5,275.97 L547.6,274.33 L544.7,272.69 L541.7,271.06 L538.8,269.42 L535.9,267.78 L533.0,266.13 L530.0,264.49 L527.1,262.85 L524.2,261.20 L521.3,259.56 L518.3,257.91 L515.4,256.26 L512.5,254.62 L509.6,252.97 L506.6,251.33 L503.7,249.69 L500.8,248.06 L497.9,246.41 L494.9,244.78 L492.0,243.17 L489.1,241.52 L486.2,239.80 L483.2,237.99 L480.3,236.12 L477.4,234.19 L474.5,232.20 L471.5,230.00 L468.6,227.79 L465.7,225.58 L462.8,223.37 L459.8,221.14 L456.9,218.90 L454.0,216.68 L451.1,214.51 L448.1,212.40 L445.2,210.32 L442.3,208.29 L439.4,206.36 L436.4,204.50 L433.5,202.70 L430.6,200.97 L427.7,199.33 L424.7,197.75 L421.8,196.24 L418.9,194.80 L416.0,193.44 L413.0,192.15 L410.1,190.90 L407.2,189.75 L404.2,188.71 L401.3,187.75 L398.4,186.84 L395.5,186.06 L392.5,185.45 L389.6,184.96 L386.7,184.51 L383.8,184.18 L380.8,184.05 L377.9,184.12 L375.0,184.31 L372.1,184.58 L369.1,184.90 L366.2,185.42 L363.3,186.22 L360.4,187.24 L357.4,188.40 L345.7,174.30 L334.0,177.00 L322.3,186.33 L310.6,191.97 L298.9,193.60 L287.2,193.34 L275.5,195.68 L263.8,198.92 L252.1,202.46 L240.4,207.20 L228.7,221.80 L217.0,219.00 L205.3,221.73 L193.6,229.17 L181.9,235.30 L170.2,241.60 L158.5,250.97 L146.8,258.45 L135.1,263.62 L123.4,265.90Z" fill="#1b4685"/>
<path d="M123.4,265.20 L135.1,262.93 L146.8,257.75 L158.5,250.28 L170.2,240.90 L181.9,234.60 L193.6,228.47 L205.3,221.03 L217.0,218.30 L228.7,221.10 L240.4,206.50 L252.1,201.76 L263.8,198.22 L275.5,194.98 L287.2,192.64 L298.9,192.90 L310.6,191.27 L322.3,185.63 L334.0,176.30 L345.7,173.60 L357.4,187.70 L360.4,186.54 L363.3,185.52 L366.2,184.72 L369.1,184.20 L372.1,183.88 L375.0,183.61 L377.9,183.42 L380.8,183.35 L383.8,183.48 L386.7,183.81 L389.6,184.26 L392.5,184.75 L395.5,185.36 L398.4,186.14 L401.3,187.05 L404.2,188.01 L407.2,189.05 L410.1,190.20 L413.0,191.45 L416.0,192.74 L418.9,194.10 L421.8,195.54 L424.7,197.05 L427.7,198.63 L430.6,200.27 L433.5,202.00 L436.4,203.80 L439.4,205.66 L442.3,207.59 L445.2,209.62 L448.1,211.70 L451.1,213.81 L454.0,215.98 L456.9,218.20 L459.8,220.44 L462.8,222.67 L465.7,224.88 L468.6,227.09 L471.5,229.30 L474.5,231.50 L477.4,233.49 L480.3,235.42 L483.2,237.29 L486.2,239.10 L489.1,240.82 L492.0,242.47 L494.9,244.08 L497.9,245.71 L500.8,247.36 L503.7,248.99 L506.6,250.63 L509.6,252.27 L512.5,253.92 L515.4,255.56 L518.3,257.21 L521.3,258.86 L524.2,260.50 L527.1,262.15 L530.0,263.79 L533.0,265.43 L535.9,267.08 L538.8,268.72 L541.7,270.36 L544.7,271.99 L547.6,273.63 L550.5,275.27 L553.4,276.91 L556.4,278.51 L559.3,280.06 L562.2,281.56 L565.2,283.05 L568.1,284.54 L571.0,286.01 L573.9,287.45 L576.9,288.86 L579.8,290.23 L582.7,291.56 L585.6,292.82 L588.6,294.03 L591.5,295.16 L594.4,296.22 L597.3,297.22 L600.3,298.17 L603.2,299.08 L606.1,299.96 L609.0,300.83 L612.0,301.69 L614.9,302.55 L617.8,303.44 L620.7,304.35 L623.7,305.26 L626.6,306.18 L629.5,307.11 L632.4,308.02 L635.4,308.93 L638.3,309.83 L641.2,310.71 L644.1,311.57 L647.1,312.41 L650.0,313.21 L652.9,313.99 L655.8,314.76 L658.8,315.51 L661.7,316.25 L664.6,316.97 L667.5,317.66 L670.5,318.34 L673.4,319.00 L676.3,319.63 L679.2,320.23 L682.2,320.83 L685.1,321.41 L688.0,321.98 L690.9,322.53 L693.9,323.07 L696.8,323.60 L699.7,324.10 L702.6,324.59 L705.6,325.05 L708.5,325.50 L708.5,333.90 L705.6,333.44 L702.6,332.96 L699.7,332.46 L696.8,331.95 L693.9,331.42 L690.9,330.88 L688.0,330.32 L685.1,329.76 L682.2,329.18 L679.2,328.59 L676.3,327.98 L673.4,327.37 L670.5,326.73 L667.5,326.07 L664.6,325.39 L661.7,324.70 L658.8,323.99 L655.8,323.27 L652.9,322.53 L650.0,321.78 L647.1,321.02 L644.1,320.23 L641.2,319.43 L638.3,318.61 L635.4,317.77 L632.4,316.92 L629.5,316.05 L626.6,315.17 L623.7,314.28 L620.7,313.37 L617.8,312.45 L614.9,311.53 L612.0,310.59 L609.0,309.64 L606.1,308.67 L603.2,307.68 L600.3,306.66 L597.3,305.61 L594.4,304.54 L591.5,303.42 L588.6,302.26 L585.6,301.06 L582.7,299.82 L579.8,298.55 L576.9,297.24 L573.9,295.90 L571.0,294.54 L568.1,293.15 L565.2,291.74 L562.2,290.32 L559.3,288.88 L556.4,287.41 L553.4,285.90 L550.5,284.36 L547.6,282.79 L544.7,281.20 L541.7,279.58 L538.8,277.95 L535.9,276.31 L533.0,274.67 L530.0,273.01 L527.1,271.31 L524.2,269.60 L521.3,267.87 L518.3,266.13 L515.4,264.38 L512.5,262.61 L509.6,260.83 L506.6,259.05 L503.7,257.25 L500.8,255.45 L497.9,253.66 L494.9,251.87 L492.0,250.10 L489.1,248.31 L486.2,246.50 L483.2,244.66 L480.3,242.79 L477.4,240.91 L474.5,239.00 L471.5,236.89 L468.6,234.73 L465.7,232.52 L462.8,230.26 L459.8,227.93 L456.9,225.53 L454.0,223.10 L451.1,220.68 L448.1,218.24 L445.2,215.78 L442.3,213.36 L439.4,211.09 L436.4,208.92 L433.5,206.82 L430.6,204.86 L427.7,203.08 L424.7,201.49 L421.8,200.04 L418.9,198.67 L416.0,197.37 L413.0,196.09 L410.1,194.87 L407.2,193.71 L404.2,192.63 L401.3,191.61 L398.4,190.62 L395.5,189.73 L392.5,189.00 L389.6,188.36 L386.7,187.74 L383.8,187.28 L380.8,187.10 L377.9,187.14 L375.0,187.23 L372.1,187.37 L369.1,187.56 L366.2,187.98 L363.3,188.76 L360.4,189.81 L357.4,191.00 L345.7,176.90 L334.0,179.30 L322.3,188.50 L310.6,194.00 L298.9,195.50 L287.2,195.20 L275.5,197.50 L263.8,200.70 L252.1,204.20 L240.4,208.90 L228.7,223.30 L217.0,220.30 L205.3,222.90 L193.6,230.20 L181.9,236.20 L170.2,242.20 L158.5,251.50 L146.8,258.90 L135.1,264.00 L123.4,266.20Z" fill="#edf2f3"/>
<path d="M123.4,265.50 L135.1,263.30 L146.8,258.20 L158.5,250.80 L170.2,241.50 L181.9,235.50 L193.6,229.50 L205.3,222.20 L217.0,219.60 L228.7,222.60 L240.4,208.20 L252.1,203.50 L263.8,200.00 L275.5,196.80 L287.2,194.50 L298.9,194.80 L310.6,193.30 L322.3,187.80 L334.0,178.60 L345.7,176.20 L357.4,190.30 L360.4,189.11 L363.3,188.06 L366.2,187.28 L369.1,186.86 L372.1,186.67 L375.0,186.53 L377.9,186.44 L380.8,186.40 L383.8,186.58 L386.7,187.04 L389.6,187.66 L392.5,188.30 L395.5,189.03 L398.4,189.92 L401.3,190.91 L404.2,191.93 L407.2,193.01 L410.1,194.17 L413.0,195.39 L416.0,196.67 L418.9,197.97 L421.8,199.34 L424.7,200.79 L427.7,202.38 L430.6,204.16 L433.5,206.12 L436.4,208.22 L439.4,210.39 L442.3,212.66 L445.2,215.08 L448.1,217.54 L451.1,219.98 L454.0,222.40 L456.9,224.83 L459.8,227.23 L462.8,229.56 L465.7,231.82 L468.6,234.03 L471.5,236.19 L474.5,238.30 L477.4,240.21 L480.3,242.09 L483.2,243.96 L486.2,245.80 L489.1,247.61 L492.0,249.40 L494.9,251.17 L497.9,252.96 L500.8,254.75 L503.7,256.55 L506.6,258.35 L509.6,260.13 L512.5,261.91 L515.4,263.68 L518.3,265.43 L521.3,267.17 L524.2,268.90 L527.1,270.61 L530.0,272.31 L533.0,273.97 L535.9,275.61 L538.8,277.25 L541.7,278.88 L544.7,280.50 L547.6,282.09 L550.5,283.66 L553.4,285.20 L556.4,286.71 L559.3,288.18 L562.2,289.62 L565.2,291.04 L568.1,292.45 L571.0,293.84 L573.9,295.20 L576.9,296.54 L579.8,297.85 L582.7,299.12 L585.6,300.36 L588.6,301.56 L591.5,302.72 L594.4,303.84 L597.3,304.91 L600.3,305.96 L603.2,306.98 L606.1,307.97 L609.0,308.94 L612.0,309.89 L614.9,310.83 L617.8,311.75 L620.7,312.67 L623.7,313.58 L626.6,314.47 L629.5,315.35 L632.4,316.22 L635.4,317.07 L638.3,317.91 L641.2,318.73 L644.1,319.53 L647.1,320.32 L650.0,321.08 L652.9,321.83 L655.8,322.57 L658.8,323.29 L661.7,324.00 L664.6,324.69 L667.5,325.37 L670.5,326.03 L673.4,326.67 L676.3,327.28 L679.2,327.89 L682.2,328.48 L685.1,329.06 L688.0,329.62 L690.9,330.18 L693.9,330.72 L696.8,331.25 L699.7,331.76 L702.6,332.26 L705.6,332.74 L708.5,333.20 L708.5,373.10 L705.6,372.72 L702.6,372.33 L699.7,371.91 L696.8,371.47 L693.9,371.02 L690.9,370.55 L688.0,370.07 L685.1,369.57 L682.2,369.06 L679.2,368.53 L676.3,367.99 L673.4,367.43 L670.5,366.85 L667.5,366.24 L664.6,365.61 L661.7,364.95 L658.8,364.28 L655.8,363.60 L652.9,362.90 L650.0,362.19 L647.1,361.47 L644.1,360.75 L641.2,360.01 L638.3,359.25 L635.4,358.48 L632.4,357.69 L629.5,356.86 L626.6,356.01 L623.7,355.12 L620.7,354.20 L617.8,353.23 L614.9,352.21 L612.0,351.12 L609.0,349.98 L606.1,348.79 L603.2,347.55 L600.3,346.27 L597.3,344.96 L594.4,343.62 L591.5,342.25 L588.6,340.85 L585.6,339.39 L582.7,337.89 L579.8,336.33 L576.9,334.74 L573.9,333.12 L571.0,331.46 L568.1,329.78 L565.2,328.07 L562.2,326.35 L559.3,324.61 L556.4,322.84 L553.4,321.02 L550.5,319.16 L547.6,317.27 L544.7,315.35 L541.7,313.41 L538.8,311.45 L535.9,309.49 L533.0,307.52 L530.0,305.52 L527.1,303.48 L524.2,301.44 L521.3,299.43 L518.3,297.47 L515.4,295.56 L512.5,293.66 L509.6,291.78 L506.6,289.89 L503.7,287.97 L500.8,286.01 L497.9,284.00 L494.9,281.87 L492.0,279.65 L489.1,277.44 L486.2,275.36 L483.2,273.41 L480.3,271.53 L477.4,269.72 L474.5,268.00 L471.5,265.48 L468.6,262.92 L465.7,260.30 L462.8,257.64 L459.8,254.89 L456.9,252.06 L454.0,249.24 L451.1,246.49 L448.1,243.81 L445.2,241.17 L442.3,238.61 L439.4,236.16 L436.4,233.83 L433.5,231.59 L430.6,229.43 L427.7,227.38 L424.7,225.41 L421.8,223.52 L418.9,221.71 L416.0,219.99 L413.0,218.33 L410.1,216.73 L407.2,215.22 L404.2,213.81 L401.3,212.50 L398.4,211.24 L395.5,210.09 L392.5,209.11 L389.6,208.21 L386.7,207.36 L383.8,206.67 L380.8,206.24 L377.9,205.99 L375.0,205.78 L372.1,205.63 L369.1,205.58 L366.2,205.73 L363.3,206.14 L360.4,206.75 L357.4,207.50 L345.7,194.20 L334.0,195.80 L322.3,201.60 L310.6,206.70 L298.9,207.40 L287.2,207.40 L275.5,210.30 L263.8,213.50 L252.1,216.50 L240.4,220.70 L228.7,232.50 L217.0,230.20 L205.3,231.60 L193.6,238.20 L181.9,244.90 L170.2,251.20 L158.5,259.30 L146.8,266.70 L135.1,272.30 L123.4,274.80Z" fill="#1b4685"/>
<path d="M123.4,274.10 L135.1,271.60 L146.8,266.00 L158.5,258.60 L170.2,250.50 L181.9,244.20 L193.6,237.50 L205.3,230.90 L217.0,229.50 L228.7,231.80 L240.4,220.00 L252.1,215.80 L263.8,212.80 L275.5,209.60 L287.2,206.70 L298.9,206.70 L310.6,206.00 L322.3,200.90 L334.0,195.10 L345.7,193.50 L357.4,206.80 L360.4,206.05 L363.3,205.44 L366.2,205.03 L369.1,204.88 L372.1,204.93 L375.0,205.08 L377.9,205.29 L380.8,205.54 L383.8,205.97 L386.7,206.66 L389.6,207.51 L392.5,208.41 L395.5,209.39 L398.4,210.54 L401.3,211.80 L404.2,213.11 L407.2,214.52 L410.1,216.03 L413.0,217.63 L416.0,219.29 L418.9,221.01 L421.8,222.82 L424.7,224.71 L427.7,226.68 L430.6,228.73 L433.5,230.89 L436.4,233.13 L439.4,235.46 L442.3,237.91 L445.2,240.47 L448.1,243.11 L451.1,245.79 L454.0,248.54 L456.9,251.36 L459.8,254.19 L462.8,256.94 L465.7,259.60 L468.6,262.22 L471.5,264.78 L474.5,267.30 L477.4,269.02 L480.3,270.83 L483.2,272.71 L486.2,274.66 L489.1,276.74 L492.0,278.95 L494.9,281.17 L497.9,283.30 L500.8,285.31 L503.7,287.27 L506.6,289.19 L509.6,291.08 L512.5,292.96 L515.4,294.86 L518.3,296.77 L521.3,298.73 L524.2,300.74 L527.1,302.78 L530.0,304.82 L533.0,306.82 L535.9,308.79 L538.8,310.75 L541.7,312.71 L544.7,314.65 L547.6,316.57 L550.5,318.46 L553.4,320.32 L556.4,322.14 L559.3,323.91 L562.2,325.65 L565.2,327.37 L568.1,329.08 L571.0,330.76 L573.9,332.42 L576.9,334.04 L579.8,335.63 L582.7,337.19 L585.6,338.69 L588.6,340.15 L591.5,341.55 L594.4,342.92 L597.3,344.26 L600.3,345.57 L603.2,346.85 L606.1,348.09 L609.0,349.28 L612.0,350.42 L614.9,351.51 L617.8,352.53 L620.7,353.50 L623.7,354.42 L626.6,355.31 L629.5,356.16 L632.4,356.99 L635.4,357.78 L638.3,358.55 L641.2,359.31 L644.1,360.05 L647.1,360.77 L650.0,361.49 L652.9,362.20 L655.8,362.90 L658.8,363.58 L661.7,364.25 L664.6,364.91 L667.5,365.54 L670.5,366.15 L673.4,366.73 L676.3,367.29 L679.2,367.83 L682.2,368.36 L685.1,368.87 L688.0,369.37 L690.9,369.85 L693.9,370.32 L696.8,370.77 L699.7,371.21 L702.6,371.63 L705.6,372.02 L708.5,372.40 L708.5,405.80 L705.6,405.26 L702.6,404.71 L699.7,404.15 L696.8,403.57 L693.9,402.98 L690.9,402.37 L688.0,401.76 L685.1,401.13 L682.2,400.49 L679.2,399.84 L676.3,399.18 L673.4,398.51 L670.5,397.83 L667.5,397.14 L664.6,396.42 L661.7,395.70 L658.8,394.95 L655.8,394.18 L652.9,393.38 L650.0,392.56 L647.1,391.71 L644.1,390.83 L641.2,389.92 L638.3,388.98 L635.4,388.02 L632.4,387.03 L629.5,386.03 L626.6,385.00 L623.7,383.96 L620.7,382.91 L617.8,381.84 L614.9,380.76 L612.0,379.66 L609.0,378.54 L606.1,377.40 L603.2,376.22 L600.3,375.02 L597.3,373.78 L594.4,372.50 L591.5,371.18 L588.6,369.82 L585.6,368.41 L582.7,366.97 L579.8,365.48 L576.9,363.95 L573.9,362.38 L571.0,360.78 L568.1,359.13 L565.2,357.44 L562.2,355.71 L559.3,353.95 L556.4,352.10 L553.4,350.17 L550.5,348.18 L547.6,346.12 L544.7,344.02 L541.7,341.90 L538.8,339.76 L535.9,337.63 L533.0,335.51 L530.0,333.39 L527.1,331.24 L524.2,329.07 L521.3,326.88 L518.3,324.68 L515.4,322.46 L512.5,320.21 L509.6,317.94 L506.6,315.62 L503.7,313.27 L500.8,310.89 L497.9,308.51 L494.9,306.12 L492.0,303.70 L489.1,301.29 L486.2,298.90 L483.2,296.53 L480.3,294.17 L477.4,291.83 L474.5,289.50 L471.5,286.46 L468.6,283.45 L465.7,280.49 L462.8,277.58 L459.8,274.70 L456.9,271.85 L454.0,269.06 L451.1,266.32 L448.1,263.63 L445.2,261.00 L442.3,258.42 L439.4,255.92 L436.4,253.48 L433.5,251.09 L430.6,248.78 L427.7,246.56 L424.7,244.42 L421.8,242.33 L418.9,240.34 L416.0,238.45 L413.0,236.64 L410.1,234.91 L407.2,233.28 L404.2,231.77 L401.3,230.35 L398.4,229.01 L395.5,227.78 L392.5,226.71 L389.6,225.73 L386.7,224.82 L383.8,224.04 L380.8,223.47 L377.9,223.02 L375.0,222.63 L372.1,222.34 L369.1,222.23 L366.2,222.29 L363.3,222.46 L360.4,222.76 L357.4,223.20 L345.7,210.20 L334.0,210.90 L322.3,216.50 L310.6,221.60 L298.9,222.30 L287.2,222.00 L275.5,224.90 L263.8,227.70 L252.1,230.80 L240.4,235.70 L228.7,248.50 L217.0,245.70 L205.3,247.40 L193.6,253.80 L181.9,260.60 L170.2,266.50 L158.5,275.30 L146.8,282.60 L135.1,288.00 L123.4,289.60Z" fill="#625d2e"/>
<path d="M123.4,288.90 L135.1,287.30 L146.8,281.90 L158.5,274.60 L170.2,265.80 L181.9,259.90 L193.6,253.10 L205.3,246.70 L217.0,245.00 L228.7,247.80 L240.4,235.00 L252.1,230.10 L263.8,227.00 L275.5,224.20 L287.2,221.30 L298.9,221.60 L310.6,220.90 L322.3,215.80 L334.0,210.20 L345.7,209.50 L357.4,222.50 L360.4,222.06 L363.3,221.76 L366.2,221.59 L369.1,221.53 L372.1,221.64 L375.0,221.93 L377.9,222.32 L380.8,222.77 L383.8,223.34 L386.7,224.12 L389.6,225.03 L392.5,226.01 L395.5,227.08 L398.4,228.31 L401.3,229.65 L404.2,231.07 L407.2,232.58 L410.1,234.21 L413.0,235.94 L416.0,237.75 L418.9,239.64 L421.8,241.63 L424.7,243.72 L427.7,245.86 L430.6,248.08 L433.5,250.39 L436.4,252.78 L439.4,255.22 L442.3,257.72 L445.2,260.30 L448.1,262.93 L451.1,265.62 L454.0,268.36 L456.9,271.15 L459.8,274.00 L462.8,276.88 L465.7,279.79 L468.6,282.75 L471.5,285.76 L474.5,288.80 L477.4,291.13 L480.3,293.47 L483.2,295.83 L486.2,298.20 L489.1,300.59 L492.0,303.00 L494.9,305.42 L497.9,307.81 L500.8,310.19 L503.7,312.57 L506.6,314.92 L509.6,317.24 L512.5,319.51 L515.4,321.76 L518.3,323.98 L521.3,326.18 L524.2,328.37 L527.1,330.54 L530.0,332.69 L533.0,334.81 L535.9,336.93 L538.8,339.06 L541.7,341.20 L544.7,343.32 L547.6,345.42 L550.5,347.48 L553.4,349.47 L556.4,351.40 L559.3,353.25 L562.2,355.01 L565.2,356.74 L568.1,358.43 L571.0,360.08 L573.9,361.68 L576.9,363.25 L579.8,364.78 L582.7,366.27 L585.6,367.71 L588.6,369.12 L591.5,370.48 L594.4,371.80 L597.3,373.08 L600.3,374.32 L603.2,375.52 L606.1,376.70 L609.0,377.84 L612.0,378.96 L614.9,380.06 L617.8,381.14 L620.7,382.21 L623.7,383.26 L626.6,384.30 L629.5,385.33 L632.4,386.33 L635.4,387.32 L638.3,388.28 L641.2,389.22 L644.1,390.13 L647.1,391.01 L650.0,391.86 L652.9,392.68 L655.8,393.48 L658.8,394.25 L661.7,395.00 L664.6,395.72 L667.5,396.44 L670.5,397.13 L673.4,397.81 L676.3,398.48 L679.2,399.14 L682.2,399.79 L685.1,400.43 L688.0,401.06 L690.9,401.67 L693.9,402.28 L696.8,402.87 L699.7,403.45 L702.6,404.01 L705.6,404.56 L708.5,405.10 L708.5,437.90 L705.6,437.51 L702.6,437.11 L699.7,436.69 L696.8,436.26 L693.9,435.81 L690.9,435.35 L688.0,434.88 L685.1,434.40 L682.2,433.91 L679.2,433.40 L676.3,432.89 L673.4,432.36 L670.5,431.81 L667.5,431.24 L664.6,430.65 L661.7,430.05 L658.8,429.44 L655.8,428.81 L652.9,428.18 L650.0,427.53 L647.1,426.87 L644.1,426.20 L641.2,425.52 L638.3,424.82 L635.4,424.11 L632.4,423.38 L629.5,422.64 L626.6,421.87 L623.7,421.09 L620.7,420.29 L617.8,419.46 L614.9,418.60 L612.0,417.69 L609.0,416.75 L606.1,415.78 L603.2,414.80 L600.3,413.80 L597.3,412.80 L594.4,411.80 L591.5,410.82 L588.6,409.84 L585.6,408.88 L582.7,407.92 L579.8,406.96 L576.9,405.99 L573.9,405.01 L571.0,404.02 L568.1,403.00 L565.2,401.96 L562.2,400.89 L559.3,399.79 L556.4,398.66 L553.4,397.50 L550.5,396.30 L547.6,395.08 L544.7,393.83 L541.7,392.55 L538.8,391.25 L535.9,389.91 L533.0,388.54 L530.0,387.09 L527.1,385.55 L524.2,384.00 L521.3,382.48 L518.3,381.02 L515.4,379.58 L512.5,378.15 L509.6,376.74 L506.6,375.32 L503.7,373.90 L500.8,372.46 L497.9,370.99 L494.9,369.50 L492.0,367.99 L489.1,366.48 L486.2,364.95 L483.2,363.40 L480.3,361.85 L477.4,360.28 L474.5,358.70 L471.5,356.78 L468.6,354.83 L465.7,352.85 L462.8,350.84 L459.8,348.78 L456.9,346.70 L454.0,344.59 L451.1,342.47 L448.1,340.35 L445.2,338.20 L442.3,336.06 L439.4,333.93 L436.4,331.81 L433.5,329.69 L430.6,327.59 L427.7,325.53 L424.7,323.49 L421.8,321.48 L418.9,319.51 L416.0,317.59 L413.0,315.72 L410.1,313.89 L407.2,312.12 L404.2,310.43 L401.3,308.81 L398.4,307.24 L395.5,305.75 L392.5,304.37 L389.6,303.08 L386.7,301.84 L383.8,300.71 L380.8,299.73 L377.9,298.84 L375.0,298.00 L372.1,297.30 L369.1,296.84 L366.2,296.52 L363.3,296.26 L360.4,296.07 L357.4,296.00 L345.7,284.40 L334.0,284.20 L322.3,286.10 L310.6,289.60 L298.9,288.40 L287.2,287.10 L275.5,289.30 L263.8,291.20 L252.1,293.50 L240.4,296.70 L228.7,306.20 L217.0,304.00 L205.3,304.30 L193.6,309.40 L181.9,314.50 L170.2,319.20 L158.5,327.20 L146.8,332.30 L135.1,334.80 L123.4,336.70Z" fill="#385679"/>
<path d="M123.4,336.00 L135.1,334.10 L146.8,331.60 L158.5,326.50 L170.2,318.50 L181.9,313.80 L193.6,308.70 L205.3,303.60 L217.0,303.30 L228.7,305.50 L240.4,296.00 L252.1,292.80 L263.8,290.50 L275.5,288.60 L287.2,286.40 L298.9,287.70 L310.6,288.90 L322.3,285.40 L334.0,283.50 L345.7,283.70 L357.4,295.30 L360.4,295.37 L363.3,295.56 L366.2,295.82 L369.1,296.14 L372.1,296.60 L375.0,297.30 L377.9,298.14 L380.8,299.03 L383.8,300.01 L386.7,301.14 L389.6,302.38 L392.5,303.67 L395.5,305.05 L398.4,306.54 L401.3,308.11 L404.2,309.73 L407.2,311.42 L410.1,313.19 L413.0,315.02 L416.0,316.89 L418.9,318.81 L421.8,320.78 L424.7,322.79 L427.7,324.83 L430.6,326.89 L433.5,328.99 L436.4,331.11 L439.4,333.23 L442.3,335.36 L445.2,337.50 L448.1,339.65 L451.1,341.77 L454.0,343.89 L456.9,346.00 L459.8,348.08 L462.8,350.14 L465.7,352.15 L468.6,354.13 L471.5,356.08 L474.5,358.00 L477.4,359.58 L480.3,361.15 L483.2,362.70 L486.2,364.25 L489.1,365.78 L492.0,367.29 L494.9,368.80 L497.9,370.29 L500.8,371.76 L503.7,373.20 L506.6,374.62 L509.6,376.04 L512.5,377.45 L515.4,378.88 L518.3,380.32 L521.3,381.78 L524.2,383.30 L527.1,384.85 L530.0,386.39 L533.0,387.84 L535.9,389.21 L538.8,390.55 L541.7,391.85 L544.7,393.13 L547.6,394.38 L550.5,395.60 L553.4,396.80 L556.4,397.96 L559.3,399.09 L562.2,400.19 L565.2,401.26 L568.1,402.30 L571.0,403.32 L573.9,404.31 L576.9,405.29 L579.8,406.26 L582.7,407.22 L585.6,408.18 L588.6,409.14 L591.5,410.12 L594.4,411.10 L597.3,412.10 L600.3,413.10 L603.2,414.10 L606.1,415.08 L609.0,416.05 L612.0,416.99 L614.9,417.90 L617.8,418.76 L620.7,419.59 L623.7,420.39 L626.6,421.17 L629.5,421.94 L632.4,422.68 L635.4,423.41 L638.3,424.12 L641.2,424.82 L644.1,425.50 L647.1,426.17 L650.0,426.83 L652.9,427.48 L655.8,428.11 L658.8,428.74 L661.7,429.35 L664.6,429.95 L667.5,430.54 L670.5,431.11 L673.4,431.66 L676.3,432.19 L679.2,432.70 L682.2,433.21 L685.1,433.70 L688.0,434.18 L690.9,434.65 L693.9,435.11 L696.8,435.56 L699.7,435.99 L702.6,436.41 L705.6,436.81 L708.5,437.20 L708.5,460.30 L705.6,460.17 L702.6,460.05 L699.7,459.92 L696.8,459.78 L693.9,459.65 L690.9,459.51 L688.0,459.37 L685.1,459.23 L682.2,459.08 L679.2,458.94 L676.3,458.79 L673.4,458.64 L670.5,458.49 L667.5,458.33 L664.6,458.18 L661.7,458.01 L658.8,457.85 L655.8,457.68 L652.9,457.51 L650.0,457.34 L647.1,457.15 L644.1,456.97 L641.2,456.78 L638.3,456.59 L635.4,456.39 L632.4,456.19 L629.5,455.99 L626.6,455.78 L623.7,455.56 L620.7,455.35 L617.8,455.12 L614.9,454.89 L612.0,454.66 L609.0,454.42 L606.1,454.17 L603.2,453.92 L600.3,453.66 L597.3,453.39 L594.4,453.11 L591.5,452.82 L588.6,452.53 L585.6,452.23 L582.7,451.92 L579.8,451.61 L576.9,451.28 L573.9,450.94 L571.0,450.59 L568.1,450.23 L565.2,449.84 L562.2,449.44 L559.3,449.02 L556.4,448.57 L553.4,448.08 L550.5,447.57 L547.6,447.03 L544.7,446.46 L541.7,445.87 L538.8,445.26 L535.9,444.63 L533.0,443.98 L530.0,443.27 L527.1,442.48 L524.2,441.68 L521.3,440.94 L518.3,440.26 L515.4,439.61 L512.5,438.97 L509.6,438.35 L506.6,437.75 L503.7,437.14 L500.8,436.54 L497.9,435.93 L494.9,435.32 L492.0,434.71 L489.1,434.10 L486.2,433.49 L483.2,432.89 L480.3,432.29 L477.4,431.69 L474.5,431.10 L471.5,429.87 L468.6,428.63 L465.7,427.37 L462.8,426.09 L459.8,424.79 L456.9,423.47 L454.0,422.14 L451.1,420.81 L448.1,419.48 L445.2,418.14 L442.3,416.80 L439.4,415.47 L436.4,414.15 L433.5,412.84 L430.6,411.54 L427.7,410.27 L424.7,409.02 L421.8,407.78 L418.9,406.58 L416.0,405.40 L413.0,404.27 L410.1,403.16 L407.2,402.08 L404.2,401.05 L401.3,400.04 L398.4,399.06 L395.5,398.12 L392.5,397.21 L389.6,396.33 L386.7,395.49 L383.8,394.67 L380.8,393.89 L377.9,393.13 L375.0,392.41 L372.1,391.72 L369.1,391.05 L366.2,390.42 L363.3,389.82 L360.4,389.25 L357.4,388.70 L345.7,385.00 L334.0,383.70 L322.3,385.20 L310.6,387.10 L298.9,384.30 L287.2,381.40 L275.5,382.40 L263.8,383.70 L252.1,384.70 L240.4,388.50 L228.7,393.90 L217.0,393.90 L205.3,394.60 L193.6,398.40 L181.9,402.40 L170.2,406.90 L158.5,411.30 L146.8,415.80 L135.1,417.70 L123.4,417.90Z" fill="#2d2f2c"/>
<path d="M123.4,417.20 L135.1,417.00 L146.8,415.10 L158.5,410.60 L170.2,406.20 L181.9,401.70 L193.6,397.70 L205.3,393.90 L217.0,393.20 L228.7,393.20 L240.4,387.80 L252.1,384.00 L263.8,383.00 L275.5,381.70 L287.2,380.70 L298.9,383.60 L310.6,386.40 L322.3,384.50 L334.0,383.00 L345.7,384.30 L357.4,388.00 L360.4,388.55 L363.3,389.12 L366.2,389.72 L369.1,390.35 L372.1,391.02 L375.0,391.71 L377.9,392.43 L380.8,393.19 L383.8,393.97 L386.7,394.79 L389.6,395.63 L392.5,396.51 L395.5,397.42 L398.4,398.36 L401.3,399.34 L404.2,400.35 L407.2,401.38 L410.1,402.46 L413.0,403.57 L416.0,404.70 L418.9,405.88 L421.8,407.08 L424.7,408.32 L427.7,409.57 L430.6,410.84 L433.5,412.14 L436.4,413.45 L439.4,414.77 L442.3,416.10 L445.2,417.44 L448.1,418.78 L451.1,420.11 L454.0,421.44 L456.9,422.77 L459.8,424.09 L462.8,425.39 L465.7,426.67 L468.6,427.93 L471.5,429.17 L474.5,430.40 L477.4,430.99 L480.3,431.59 L483.2,432.19 L486.2,432.79 L489.1,433.40 L492.0,434.01 L494.9,434.62 L497.9,435.23 L500.8,435.84 L503.7,436.44 L506.6,437.05 L509.6,437.65 L512.5,438.27 L515.4,438.91 L518.3,439.56 L521.3,440.24 L524.2,440.98 L527.1,441.78 L530.0,442.57 L533.0,443.28 L535.9,443.93 L538.8,444.56 L541.7,445.17 L544.7,445.76 L547.6,446.33 L550.5,446.87 L553.4,447.38 L556.4,447.87 L559.3,448.32 L562.2,448.74 L565.2,449.14 L568.1,449.53 L571.0,449.89 L573.9,450.24 L576.9,450.58 L579.8,450.91 L582.7,451.22 L585.6,451.53 L588.6,451.83 L591.5,452.12 L594.4,452.41 L597.3,452.69 L600.3,452.96 L603.2,453.22 L606.1,453.47 L609.0,453.72 L612.0,453.96 L614.9,454.19 L617.8,454.42 L620.7,454.65 L623.7,454.86 L626.6,455.08 L629.5,455.29 L632.4,455.49 L635.4,455.69 L638.3,455.89 L641.2,456.08 L644.1,456.27 L647.1,456.45 L650.0,456.64 L652.9,456.81 L655.8,456.98 L658.8,457.15 L661.7,457.31 L664.6,457.48 L667.5,457.63 L670.5,457.79 L673.4,457.94 L676.3,458.09 L679.2,458.24 L682.2,458.38 L685.1,458.53 L688.0,458.67 L690.9,458.81 L693.9,458.95 L696.8,459.08 L699.7,459.22 L702.6,459.35 L705.6,459.47 L708.5,459.60 L708.5,468.50 L705.6,468.50 L702.6,468.50 L699.7,468.50 L696.8,468.50 L693.9,468.50 L690.9,468.50 L688.0,468.50 L685.1,468.50 L682.2,468.50 L679.2,468.50 L676.3,468.50 L673.4,468.50 L670.5,468.50 L667.5,468.50 L664.6,468.50 L661.7,468.50 L658.8,468.50 L655.8,468.50 L652.9,468.50 L650.0,468.50 L647.1,468.50 L644.1,468.50 L641.2,468.50 L638.3,468.50 L635.4,468.50 L632.4,468.50 L629.5,468.50 L626.6,468.50 L623.7,468.50 L620.7,468.50 L617.8,468.50 L614.9,468.50 L612.0,468.50 L609.0,468.50 L606.1,468.50 L603.2,468.50 L600.3,468.50 L597.3,468.50 L594.4,468.50 L591.5,468.50 L588.6,468.50 L585.6,468.50 L582.7,468.50 L579.8,468.50 L576.9,468.50 L573.9,468.50 L571.0,468.50 L568.1,468.50 L565.2,468.50 L562.2,468.50 L559.3,468.50 L556.4,468.50 L553.4,468.50 L550.5,468.50 L547.6,468.50 L544.7,468.50 L541.7,468.50 L538.8,468.50 L535.9,468.50 L533.0,468.50 L530.0,468.50 L527.1,468.50 L524.2,468.50 L521.3,468.50 L518.3,468.50 L515.4,468.50 L512.5,468.50 L509.6,468.50 L506.6,468.50 L503.7,468.50 L500.8,468.50 L497.9,468.50 L494.9,468.50 L492.0,468.50 L489.1,468.50 L486.2,468.50 L483.2,468.50 L480.3,468.50 L477.4,468.50 L474.5,468.50 L471.5,468.50 L468.6,468.50 L465.7,468.50 L462.8,468.50 L459.8,468.50 L456.9,468.50 L454.0,468.50 L451.1,468.50 L448.1,468.50 L445.2,468.50 L442.3,468.50 L439.4,468.50 L436.4,468.50 L433.5,468.50 L430.6,468.50 L427.7,468.50 L424.7,468.50 L421.8,468.50 L418.9,468.50 L416.0,468.50 L413.0,468.50 L410.1,468.50 L407.2,468.50 L404.2,468.50 L401.3,468.50 L398.4,468.50 L395.5,468.50 L392.5,468.50 L389.6,468.50 L386.7,468.50 L383.8,468.50 L380.8,468.50 L377.9,468.50 L375.0,468.50 L372.1,468.50 L369.1,468.50 L366.2,468.50 L363.3,468.50 L360.4,468.50 L357.4,468.50 L345.7,468.50 L334.0,468.50 L322.3,468.50 L310.6,468.50 L298.9,468.50 L287.2,468.50 L275.5,468.50 L263.8,468.50 L252.1,468.50 L240.4,468.50 L228.7,468.50 L217.0,468.50 L205.3,468.50 L193.6,468.50 L181.9,468.50 L170.2,468.50 L158.5,468.50 L146.8,468.50 L135.1,468.50 L123.4,468.50Z" fill="#263a63"/>
<text x="78.6" y="422.7" textLength="24" lengthAdjust="spacingAndGlyphs" class="ax">100</text>
<text x="78.6" y="369.7" textLength="24" lengthAdjust="spacingAndGlyphs" class="ax">200</text>
<text x="78.6" y="316.7" textLength="24" lengthAdjust="spacingAndGlyphs" class="ax">300</text>
<text x="78.6" y="263.7" textLength="24" lengthAdjust="spacingAndGlyphs" class="ax">400</text>
<text x="78.6" y="210.7" textLength="24" lengthAdjust="spacingAndGlyphs" class="ax">500</text>
<text x="78.6" y="157.7" textLength="24" lengthAdjust="spacingAndGlyphs" class="ax">600</text>
<text x="104.7" y="491.4" textLength="32.0" lengthAdjust="spacingAndGlyphs" class="ax">2000</text>
<text x="221.9" y="491.4" textLength="32.0" lengthAdjust="spacingAndGlyphs" class="ax">2010</text>
<text x="339.0" y="491.4" textLength="32.0" lengthAdjust="spacingAndGlyphs" class="ax">2020</text>
<text x="456.2" y="491.4" textLength="32.0" lengthAdjust="spacingAndGlyphs" class="ax">2030</text>
<text x="573.3" y="491.4" textLength="32.0" lengthAdjust="spacingAndGlyphs" class="ax">2040</text>
<text x="690.5" y="491.4" textLength="32.0" lengthAdjust="spacingAndGlyphs" class="ax">2050</text>
<text transform="translate(60.3,334.1) rotate(-90)" textLength="13.5" lengthAdjust="spacingAndGlyphs" style="font-family:'Liberation Sans',sans-serif;font-size:23px;fill:#2a2a2a">EJ</text>
<rect x="745.3" y="159.9" width="13.4" height="10.8" fill="#2d2f2c"/>
<text x="764.7" y="171.3" textLength="36" lengthAdjust="spacingAndGlyphs" class="lg">Other</text>
<rect x="745.3" y="184.0" width="13.4" height="10.8" fill="#5786b8"/>
<text x="764.7" y="195.4" textLength="119.9" lengthAdjust="spacingAndGlyphs" class="lg">Other renewables</text>
<rect x="745.3" y="208.1" width="13.4" height="10.8" fill="#e7f4ee"/>
<text x="764.7" y="219.5" textLength="33.5" lengthAdjust="spacingAndGlyphs" class="lg">Wind</text>
<rect x="745.3" y="232.2" width="13.4" height="10.8" fill="#69706c"/>
<text x="764.7" y="243.6" textLength="34.5" lengthAdjust="spacingAndGlyphs" class="lg">Solar</text>
<rect x="745.3" y="256.3" width="13.4" height="10.8" fill="#5786b8"/>
<text x="764.7" y="267.7" textLength="38.5" lengthAdjust="spacingAndGlyphs" class="lg">Hydro</text>
<rect x="745.3" y="280.4" width="13.4" height="10.8" fill="#a7afaa"/>
<text x="764.7" y="291.8" textLength="181.4" lengthAdjust="spacingAndGlyphs" class="lg">Traditional use of biomass</text>
<rect x="745.3" y="304.4" width="13.4" height="10.8" fill="#1b4685"/>
<text x="764.7" y="315.8" textLength="183.8" lengthAdjust="spacingAndGlyphs" class="lg">Modern gaseous bioenergy</text>
<rect x="745.3" y="328.5" width="13.4" height="10.8" fill="#edf2f3"/>
<text x="764.7" y="339.9" textLength="166" lengthAdjust="spacingAndGlyphs" class="lg">Modern liquid bioenergy</text>
<rect x="745.3" y="352.6" width="13.4" height="10.8" fill="#1b4685"/>
<text x="764.7" y="364.0" textLength="160.3" lengthAdjust="spacingAndGlyphs" class="lg">Modern solid bioenergy</text>
<rect x="745.3" y="376.7" width="13.4" height="10.8" fill="#625d2e"/>
<text x="764.7" y="388.1" textLength="52.5" lengthAdjust="spacingAndGlyphs" class="lg">Nuclear</text>
<rect x="745.3" y="400.8" width="13.4" height="10.8" fill="#385679"/>
<text x="764.7" y="412.2" textLength="80" lengthAdjust="spacingAndGlyphs" class="lg">Natural gas</text>
<rect x="745.3" y="424.9" width="13.4" height="10.8" fill="#2d2f2c"/>
<text x="764.7" y="436.3" textLength="19.5" lengthAdjust="spacingAndGlyphs" class="lg">Oil</text>
<rect x="745.3" y="449.0" width="13.4" height="10.8" fill="#263a63"/>
<text x="764.7" y="460.4" textLength="29.5" lengthAdjust="spacingAndGlyphs" class="lg">Coal</text>
<text y="538" class="src"><tspan x="29.7" textLength="78.9" lengthAdjust="spacingAndGlyphs">Source:</tspan> <tspan x="114.3" textLength="136.4" lengthAdjust="spacingAndGlyphs">International</tspan> <tspan x="256.0" textLength="71.6" lengthAdjust="spacingAndGlyphs">Energy</tspan> <tspan x="334.1" textLength="73.7" lengthAdjust="spacingAndGlyphs">Agency</tspan> <tspan x="414.4" textLength="69.6" lengthAdjust="spacingAndGlyphs">(2021),</tspan> <tspan x="489.3" textLength="36.8" lengthAdjust="spacingAndGlyphs">Net</tspan> <tspan x="531.9" textLength="46.1" lengthAdjust="spacingAndGlyphs">Zero</tspan> <tspan x="584.6" textLength="23.0" lengthAdjust="spacingAndGlyphs">by</tspan> <tspan x="614.1" textLength="55.1" lengthAdjust="spacingAndGlyphs">2050,</tspan> <tspan x="675.7" textLength="41.4" lengthAdjust="spacingAndGlyphs">IEA,</tspan> <tspan x="723.0" textLength="52.7" lengthAdjust="spacingAndGlyphs">Paris</tspan></text>
</svg>
</body></html>
